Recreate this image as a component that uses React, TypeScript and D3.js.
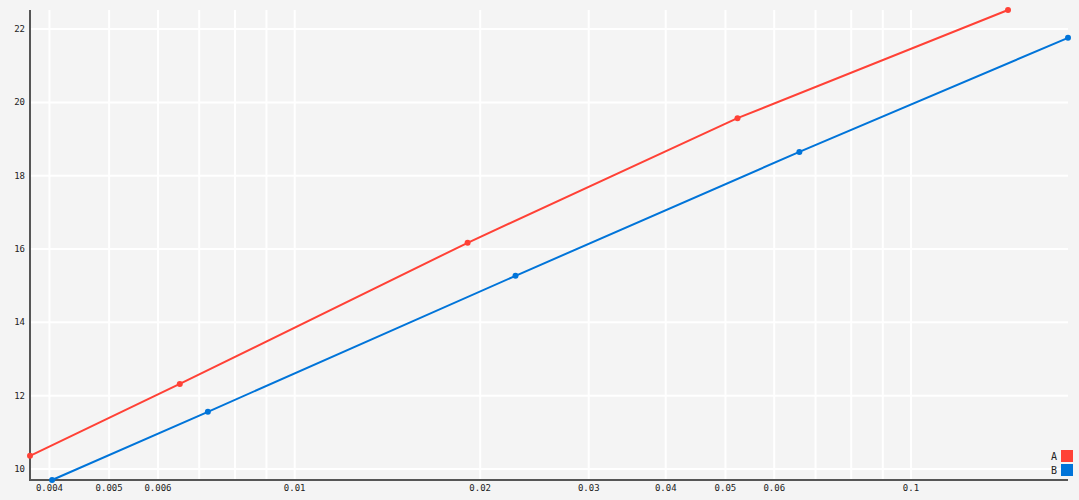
import React from 'react';
import * as d3 from 'd3';

const seriesNames = ['A', 'B'];
const colors = ['#ff4136', '#0074d9'];

const seriesA: [number, number][] = [
  [0.00372, 10.36],
  [0.00651, 12.32],
  [0.01908, 16.17],
  [0.0523, 19.57],
  [0.1437, 22.52],
];
const seriesB: [number, number][] = [
  [0.00404, 9.7],
  [0.00723, 11.56],
  [0.02282, 15.27],
  [0.0659, 18.65],
  [0.1798, 21.76],
];

const yTicks = [10, 12, 14, 16, 18, 20, 22];

const width = 1079;
const height = 500;
const margin = { top: 10, right: 10, bottom: 20, left: 30 };
const font = '"DejaVu Sans Mono", monospace';

export default function App() {
  const all = [...seriesA, ...seriesB];
  const series = [seriesA, seriesB];

  const x = d3.scaleLog()
    .domain(d3.extent(all, d => d[0]) as [number, number])
    .range([margin.left, width - margin.right - 1]);

  const y = d3.scaleLinear()
    .domain(d3.extent(all, d => d[1]) as [number, number])
    .range([height - margin.bottom, margin.top]);

  const xTicks = x.ticks(10);
  const xFormat = x.tickFormat(10, '~g');

  const line = d3.line<[number, number]>()
    .x(d => x(d[0]))
    .y(d => y(d[1]));

  const [x0, x1] = x.range();
  const [y0, y1] = y.range();

  return (
    <svg width={width} height={height} style={{ position: 'absolute', left: 0, top: 0, display: 'block' }}>
      <rect width={width} height={height} fill="#f4f4f4" />

      {/* grid */}
      <g stroke="#fff" strokeWidth={2}>
        {xTicks.map((t, i) => (
          <line key={'gx' + i} x1={x(t)} x2={x(t)} y1={y1} y2={y0} />
        ))}
        {yTicks.map((t, i) => (
          <line key={'gy' + i} x1={x0} x2={x1} y1={y(t)} y2={y(t)} />
        ))}
      </g>

      {/* axes */}
      <line x1={x0} x2={x0} y1={y1} y2={y0 + 1} stroke="#555" strokeWidth={2} />
      <line x1={x0} x2={x1} y1={y0} y2={y0} stroke="#555" strokeWidth={2} />

      <g fontFamily={font} fontSize={9} fill="#222">
        {xTicks.map((t, i) => {
          const s = xFormat(t);
          return s ? (
            <text key={'lx' + i} x={x(t)} y={y0 + 11} textAnchor="middle">{s}</text>
          ) : null;
        })}
        {yTicks.map((t, i) => (
          <text key={'ly' + i} x={x0 - 5} y={y(t) + 3} textAnchor="end">{t}</text>
        ))}
      </g>

      {/* series */}
      {series.map((s, i) => (
        <g key={'s' + i}>
          <path d={line(s) || ''} fill="none" stroke={colors[i]} strokeWidth={2} />
          {s.map((d, j) => (
            <circle key={j} cx={x(d[0])} cy={y(d[1])} r={3} fill={colors[i]} />
          ))}
        </g>
      ))}

      {/* legend */}
      <g fontFamily={font} fontSize={10} fill="#222">
        {seriesNames.map((n, i) => (
          <g key={n} transform={`translate(${width - 18},${450 + i * 14})`}>
            <rect width={12} height={12} fill={colors[i]} />
            <text x={-4} y={9.5} textAnchor="end">{n}</text>
          </g>
        ))}
      </g>
    </svg>
  );
}
